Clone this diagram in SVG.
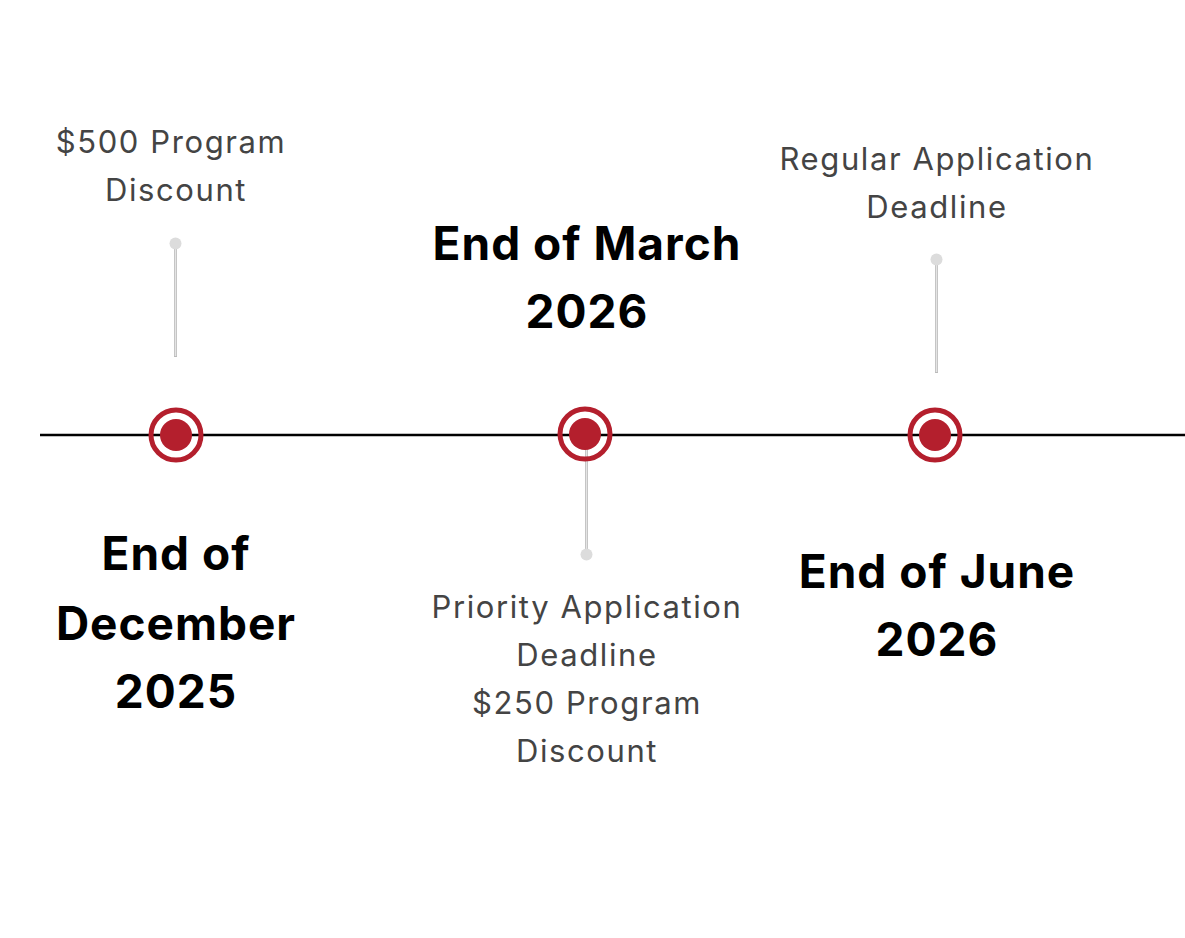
<svg xmlns="http://www.w3.org/2000/svg" width="1185" height="938" viewBox="0 0 1185 938">
<defs>
<style>
.sub{font-family:Inter,"Open Sans",sans-serif;font-size:31px;letter-spacing:1.6px;fill:#444;text-anchor:middle}
.head{font-family:Inter,"Open Sans",sans-serif;font-size:46px;letter-spacing:1px;font-weight:700;fill:#000;text-anchor:middle}
.ring{fill:none;stroke:#b41f2d;stroke-width:5}
.core{fill:#b41f2d}
.stem{stroke:#bbb;stroke-width:3}
.stemin{stroke:#e4e4e4;stroke-width:1.5}
.pin{fill:#dcdcdc}
</style>
</defs>
<rect width="1185" height="938" fill="#fff"/>
<g id="connectors">
<line x1="40" y1="435" x2="1185" y2="435" stroke="#000" stroke-width="2.5"/>
<line class="stem" x1="175.5" y1="243" x2="175.5" y2="357"/>
<line class="stemin" x1="175.5" y1="243" x2="175.5" y2="356"/>
<line class="stem" x1="586.5" y1="440" x2="586.5" y2="554"/>
<line class="stemin" x1="586.5" y1="440" x2="586.5" y2="554"/>
<line class="stem" x1="936.5" y1="259" x2="936.5" y2="373"/>
<line class="stemin" x1="936.5" y1="259" x2="936.5" y2="372"/>
</g>
<g id="node-dec">
<circle class="pin" cx="175.5" cy="243.5" r="6"/>
<text class="sub" x="171" y="153">$500 Program</text>
<text class="sub" x="176" y="201">Discount</text>
<circle class="ring" cx="176" cy="435" r="25"/>
<circle class="core" cx="176" cy="435" r="16"/>
<text class="head" x="176" y="570">End of</text>
<text class="head" x="176" y="640">December</text>
<text class="head" x="176" y="708">2025</text>
</g>
<g id="node-mar">
<text class="head" x="587" y="260">End of March</text>
<text class="head" x="587" y="328">2026</text>
<circle class="ring" cx="585" cy="434" r="25"/>
<circle class="core" cx="585" cy="434" r="16"/>
<circle class="pin" cx="586.5" cy="554.5" r="6"/>
<text class="sub" x="587" y="618">Priority Application</text>
<text class="sub" x="587" y="666">Deadline</text>
<text class="sub" x="587" y="714">$250 Program</text>
<text class="sub" x="587" y="762">Discount</text>
</g>
<g id="node-jun">
<text class="sub" x="937" y="170">Regular Application</text>
<text class="sub" x="937" y="218">Deadline</text>
<circle class="pin" cx="936.5" cy="259.5" r="6"/>
<circle class="ring" cx="935" cy="435" r="25"/>
<circle class="core" cx="935" cy="435" r="16"/>
<text class="head" x="937" y="588">End of June</text>
<text class="head" x="937" y="656">2026</text>
</g>
</svg>
